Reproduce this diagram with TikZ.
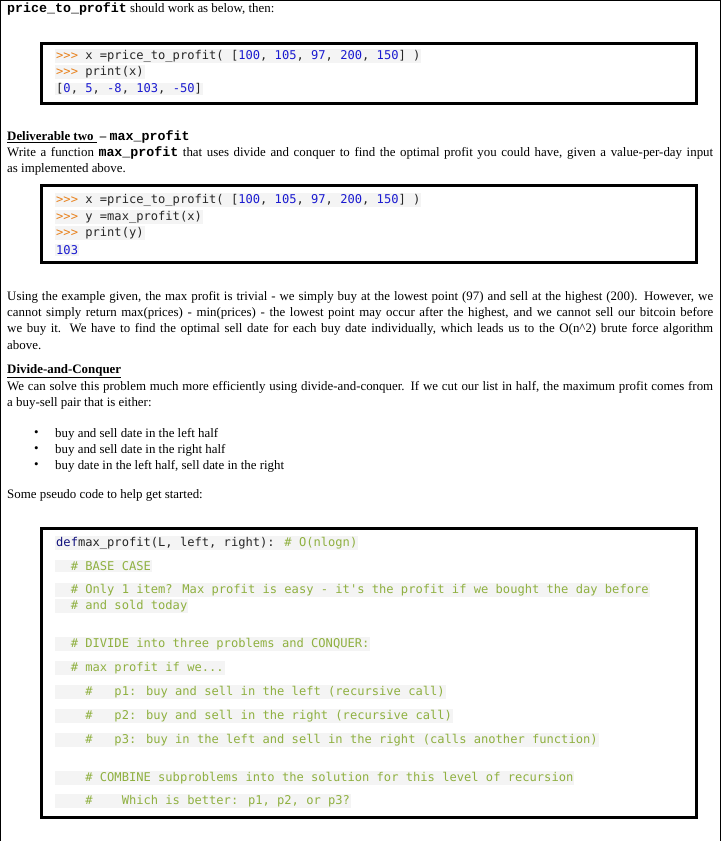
\documentclass[tikz,border=0pt]{standalone}
\usepackage{fontspec}
\setmainfont{Liberation Serif}
\newfontfamily\cmono{DejaVu Sans Mono}
\newfontfamily\imono{Liberation Mono}
\definecolor{prm}{HTML}{E8821E}
\definecolor{num}{HTML}{1A1AD0}
\definecolor{cmt}{HTML}{8FB040}
\definecolor{hl}{HTML}{F4F4F4}
\tikzset{
 txt/.style={anchor=west,inner sep=0pt,font=\fontsize{12.9}{15}\selectfont},
 code/.style={anchor=west,inner sep=1pt,fill=hl,font=\cmono\fontsize{12.1}{14}\selectfont,text=black!85},
 ccode/.style={code,text=cmt},
 box/.style={draw=black,line width=3pt},
}
\newcommand\im[1]{{\imono\bfseries\fontsize{13.3}{15}\selectfont #1}}
\newcommand\jl[1]{\makebox[706pt][s]{#1}}
\begin{document}
\begin{tikzpicture}[x=1pt,y=-1pt]
\useasboundingbox (0,0) rectangle (721,841);
\draw[line width=1pt] (0.5,841) -- (0.5,0.5) -- (720.5,0.5) -- (720.5,841);
% box 1
\draw[box] (41,43) rectangle (696,103);
\node[code] (a1) at (55,56) {\textcolor{prm}{>>>} x =price\_to\_profit( [\textcolor{num}{100}, \textcolor{num}{105}, \textcolor{num}{97}, \textcolor{num}{200}, \textcolor{num}{150}] )};
\node[code] (a2) at (55,72) {\textcolor{prm}{>>>} print(x)};
\node[code] (a3) at (55,89) {[\textcolor{num}{0}, \textcolor{num}{5}, \textcolor{num}{-8}, \textcolor{num}{103}, \textcolor{num}{-50}]};
\node[txt] (t0) at (7,9) {\im{price\_to\_profit} should work as below, then:};
\node[txt] (t1) at (7,137) {\textbf{\underline{Deliverable two }}\textbf{ – }\im{max\_profit}};
\node[txt] (t2) at (7,153) {\jl{Write a function \im{max\_profit} that uses divide and conquer to find the optimal profit you could have, given a value-per-day input}};
\node[txt] (t3) at (7,169) {as implemented above.};
% box 2
\draw[box] (41,185) rectangle (696,262);
\node[code] (b1) at (55,200) {\textcolor{prm}{>>>} x =price\_to\_profit( [\textcolor{num}{100}, \textcolor{num}{105}, \textcolor{num}{97}, \textcolor{num}{200}, \textcolor{num}{150}] )};
\node[code] (b2) at (55,217) {\textcolor{prm}{>>>} y =max\_profit(x)};
\node[code] (b3) at (55,233) {\textcolor{prm}{>>>} print(y)};
\node[code] (b4) at (55,250) {\textcolor{num}{103}};
\node[txt] (p1) at (7,297) {\jl{Using the example given, the max profit is trivial - we simply buy at the lowest point (97) and sell at the highest (200). However, we}};
\node[txt] (p2) at (7,313) {\jl{cannot simply return max(prices) - min(prices) - the lowest point may occur after the highest, and we cannot sell our bitcoin before}};
\node[txt] (p3) at (7,329) {\jl{we buy it. We have to find the optimal sell date for each buy date individually, which leads us to the O(n\^{}2) brute force algorithm}};
\node[txt] (p4) at (7,345) {above.};
\node[txt] (d1) at (7,371) {\textbf{\underline{Divide-and-Conquer}}};
\node[txt] (d2) at (7,387) {\jl{We can solve this problem much more efficiently using divide-and-conquer. If we cut our list in half, the maximum profit comes from}};
\node[txt] (d3) at (7,403) {a buy-sell pair that is either:};
\foreach \y/\t/\n in {434/buy and sell date in the left half/l1,450/buy and sell date in the right half/l2,466/{buy date in the left half, sell date in the right}/l3}{
 \node[txt] (\n b) at (34,\y) {•};
 \node[txt] (\n) at (55,\y) {\t};
}
\node[txt] (s1) at (7,495) {Some pseudo code to help get started:};
% box 3
\draw[box] (41,528) rectangle (696,817);
\node[code] (c1) at (55,543) {\textcolor{num!60!black}{def}max\_profit(L, left, right): \textcolor{cmt}{\# O(nlogn)}};
\node[ccode] (c2) at (55,566) {\ \ \# BASE CASE};
\node[ccode] (c3) at (55,590) {\ \ \# Only 1 item? Max profit is easy - it's the profit if we bought the day before};
\node[ccode] (c4) at (55,606) {\ \ \# and sold today};
\node[ccode] (c5) at (55,644) {\ \ \# DIVIDE into three problems and CONQUER:};
\node[ccode] (c6) at (55,668) {\ \ \# max profit if we...};
\node[ccode] (c7) at (55,692) {\ \ \ \ \#\ \ \ p1: buy and sell in the left (recursive call)};
\node[ccode] (c8) at (55,716) {\ \ \ \ \#\ \ \ p2: buy and sell in the right (recursive call)};
\node[ccode] (c9) at (55,740) {\ \ \ \ \#\ \ \ p3: buy in the left and sell in the right (calls another function)};
\node[ccode] (c10) at (55,778) {\ \ \ \ \# COMBINE subproblems into the solution for this level of recursion};
\node[ccode] (c11) at (55,801) {\ \ \ \ \#\ \ \ \ Which is better: p1, p2, or p3?};
\end{tikzpicture}
\end{document}
